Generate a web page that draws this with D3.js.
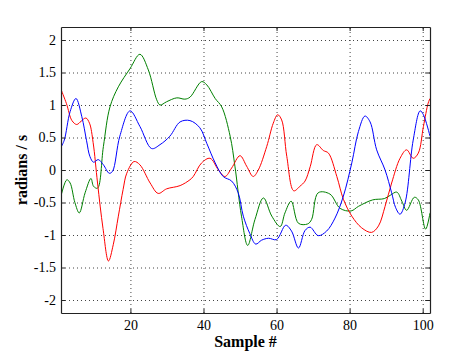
<!DOCTYPE html>
<html>
<head>
<meta charset="utf-8">
<script src="https://cdn.jsdelivr.net/npm/d3@7"></script>
<style>
  html, body { margin: 0; padding: 0; background: #fff; }
  svg { display: block; }
  .axis path, .axis line { stroke: #222; }
  .grid line { stroke: #444; stroke-dasharray: 1,3; }
  .grid path { stroke: none; }
</style>
</head>
<body>
<script>
// ---- data ----
const xTicks = [20, 40, 60, 80, 100];
const yTicks = [-2, -1.5, -1, -0.5, 0, 0.5, 1, 1.5, 2];
const xLabel = "Sample #";
const yLabel = "radians / s";

const redX = [1, 2.5, 4, 5.3, 6.5, 7.8, 8.8, 9.8, 11, 12.5, 14, 15.3, 16.7, 18, 19, 21, 22.6, 25.4, 27.6, 29.9, 33.6, 36.3, 37.2, 39.5, 41.8, 44.1, 45.9, 47.7, 50, 51.8, 53.6, 55, 57.3, 59.1, 60.3, 61.4, 62.8, 64.7, 66.4, 67.8, 69.2, 71, 72.8, 74.2, 76.5, 78.3, 80.6, 83.3, 86, 87.9, 89.7, 91.5, 93.8, 95.6, 97.4, 98.8, 100.2, 101.5, 102];
const redY = [1.24, 1.02, 0.76, 0.70, 0.75, 0.80, 0.72, 0.42, -0.2, -0.9, -1.40, -1.15, -0.71, -0.30, -0.05, 0.13, 0.08, -0.2, -0.36, -0.29, -0.24, -0.15, -0.10, 0.11, 0.18, 0.0, -0.10, 0.03, 0.22, 0.06, -0.10, 0.0, 0.36, 0.72, 0.85, 0.77, 0.21, -0.32, -0.25, -0.17, 0.05, 0.39, 0.30, 0.26, -0.10, -0.45, -0.71, -0.89, -0.96, -0.86, -0.56, -0.20, 0.18, 0.31, 0.18, 0.26, 0.67, 1.03, 1.1];

const blueX = [1, 1.9, 3.5, 5.1, 6.7, 8, 8.9, 9.9, 11.2, 12.6, 14.2, 15.1, 17.1, 19.9, 22.6, 25.8, 28.1, 30.8, 33.6, 36.3, 39, 40.9, 43.2, 45.4, 47.7, 49.5, 50.9, 52.7, 54.3, 55.9, 57.8, 60, 62.5, 64.1, 66, 67.8, 69.2, 71.4, 73.7, 76, 78.3, 80.6, 82.4, 84.2, 85.6, 87.4, 89.7, 91.5, 92.6, 93.8, 95.2, 97.4, 99.3, 100.2, 102];
const blueY = [0.35, 0.46, 0.90, 1.10, 0.82, 0.45, 0.21, 0.12, 0.16, 0.08, -0.05, -0.02, 0.52, 0.91, 0.67, 0.33, 0.39, 0.52, 0.74, 0.76, 0.65, 0.41, 0.11, -0.10, -0.17, -0.35, -0.71, -0.98, -1.14, -1.08, -1.05, -1.07, -0.85, -0.94, -1.20, -0.93, -0.88, -1.01, -0.94, -0.74, -0.40, 0.11, 0.59, 0.83, 0.74, 0.31, 0.0, -0.35, -0.58, -0.68, -0.50, 0.46, 0.91, 0.85, 0.52];

const greenX = [1, 2.6, 3.5, 4.8, 6, 7.6, 9.2, 9.9, 11, 12.6, 14.4, 16.7, 19.9, 22.6, 24.9, 27.2, 28.1, 29.9, 32.7, 34.9, 36.3, 39.5, 40.9, 43.2, 45, 47.3, 48.6, 50.4, 52.1, 54.1, 56.4, 58.7, 61, 62.3, 64, 66, 68.5, 69.6, 71.4, 74.6, 77.4, 80.4, 82.4, 86.3, 89.5, 91.1, 92.9, 94.3, 95.6, 97.7, 98.8, 100.8, 102];
const greenY = [-0.40, -0.15, -0.2, -0.5, -0.66, -0.35, -0.13, -0.25, -0.28, 0.36, 0.97, 1.28, 1.56, 1.78, 1.54, 1.08, 1.0, 1.05, 1.11, 1.09, 1.12, 1.36, 1.31, 1.10, 0.97, 0.52, 0.06, -0.71, -1.16, -0.76, -0.43, -0.71, -0.87, -0.66, -0.48, -0.82, -0.83, -0.76, -0.35, -0.37, -0.59, -0.63, -0.56, -0.46, -0.44, -0.39, -0.34, -0.48, -0.62, -0.42, -0.46, -0.91, -0.66];

const seriesColors = { red: "#ff0000", blue: "#0000ff", green: "#008000" };

// ---- layout ----
const W = 474, H = 354;
const m = { left: 61, top: 27 };
const pw = 369, ph = 286;
const serif = '"Liberation Serif", "Times New Roman", serif';

const svg = d3.select("body").append("svg").attr("width", W).attr("height", H);
const g = svg.append("g").attr("transform", `translate(${m.left},${m.top})`);

const x = d3.scaleLinear().domain([1, 102]).range([0, pw]);
const y = d3.scaleLinear().domain([-2.2, 2.2]).range([ph, 0]);
const fmt = d => String(d);

// grid
g.append("g").attr("class", "grid").attr("transform", `translate(0,${ph})`)
  .call(d3.axisBottom(x).tickValues(xTicks).tickSize(-ph).tickFormat(""));
g.append("g").attr("class", "grid")
  .call(d3.axisLeft(y).tickValues(yTicks).tickSize(-pw).tickFormat(""));

// lines
g.append("clipPath").attr("id", "clip").append("rect").attr("width", pw).attr("height", ph);
const line = d3.line().x(d => x(d[0])).y(d => y(d[1])).curve(d3.curveCatmullRom.alpha(0.5));
const series = [
  { xs: greenX, ys: greenY, c: seriesColors.green },
  { xs: redX, ys: redY, c: seriesColors.red },
  { xs: blueX, ys: blueY, c: seriesColors.blue }
];
series.forEach(s => {
  g.append("path")
    .datum(s.xs.map((v, i) => [v, s.ys[i]]))
    .attr("clip-path", "url(#clip)")
    .attr("fill", "none").attr("stroke", s.c).attr("stroke-width", 1)
    .attr("d", line);
});

// axes (inside ticks, box)
const xb = g.append("g").attr("class", "axis").attr("transform", `translate(0,${ph})`)
  .call(d3.axisBottom(x).tickValues(xTicks).tickSizeInner(-4).tickSizeOuter(0).tickPadding(7).tickFormat(fmt));
const yl = g.append("g").attr("class", "axis")
  .call(d3.axisLeft(y).tickValues(yTicks).tickSizeInner(-4).tickSizeOuter(0).tickPadding(5).tickFormat(fmt));
g.append("g").attr("class", "axis")
  .call(d3.axisTop(x).tickValues(xTicks).tickSizeInner(-4).tickSizeOuter(0).tickFormat(""));
g.append("g").attr("class", "axis").attr("transform", `translate(${pw},0)`)
  .call(d3.axisRight(y).tickValues(yTicks).tickSizeInner(-4).tickSizeOuter(0).tickFormat(""));
g.selectAll(".axis path.domain").attr("stroke-width", 1.2);
[xb, yl].forEach(a => a.selectAll("text")
  .style("font-family", serif).style("font-size", "14px").style("fill", "#000"));

// labels
svg.append("text")
  .attr("x", m.left + pw / 2).attr("y", 347)
  .attr("text-anchor", "middle")
  .style("font-family", serif)
  .style("font-size", "16px").style("font-weight", "bold")
  .text(xLabel);
svg.append("text")
  .attr("transform", `translate(27,${m.top + ph / 2}) rotate(-90)`)
  .attr("text-anchor", "middle")
  .style("font-family", serif)
  .style("font-size", "16px").style("font-weight", "bold")
  .text(yLabel);
</script>
</body>
</html>
